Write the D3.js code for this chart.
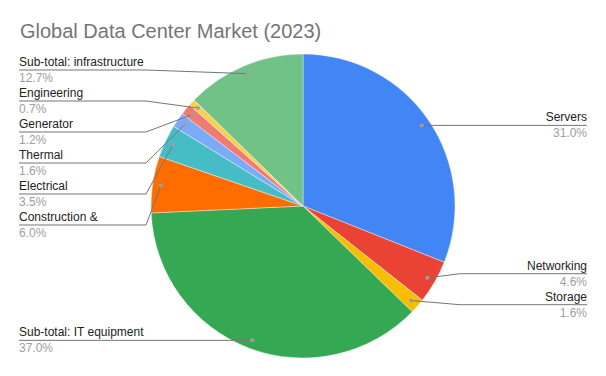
<!DOCTYPE html>
<html lang="en">
<head>
<meta charset="utf-8">
<title>Global Data Center Market (2023)</title>
<script src="https://cdn.jsdelivr.net/npm/d3@7/dist/d3.min.js"></script>
<style>
  body { margin: 0; background: #fff; }
  text { font-family: "Liberation Sans", Arial, sans-serif; }
</style>
</head>
<body>
<script>
// data
var categories = ["Servers", "Networking", "Storage", "Sub-total: IT equipment",
                  "Construction &", "Electrical", "Thermal", "Generator",
                  "Engineering", "Sub-total: infrastructure"];
var shares = [31.0, 4.6, 1.6, 37.0, 6.0, 3.5, 1.6, 1.2, 0.7, 12.7];
var colors = ["#4285F4", "#EA4335", "#FBBC04", "#34A853", "#FF6D01",
              "#46BDC6", "#7BAAF7", "#F07B72", "#FCD04F", "#71C287"];

var w = 606, h = 376;
var cx = 303, cy = 206, r = 152;
var gap = 31;      // vertical space between stacked labels
var minY = 70;     // top limit for label lines

var svg = d3.select("body").append("svg")
    .attr("width", w).attr("height", h);

svg.append("text")
    .attr("x", 20).attr("y", 38)
    .attr("font-size", "20px")
    .attr("fill", "#757575")
    .text("Global Data Center Market (2023)");

var data = categories.map(function(c, i) {
    return { name: c, value: shares[i], color: colors[i] };
});

var pie = d3.pie().sort(null).value(function(d) { return d.value; });
var arcs = pie(data);

var arc = d3.arc().innerRadius(0).outerRadius(r);
var dotArc = d3.arc().innerRadius(r * 0.945).outerRadius(r * 0.945);

var g = svg.append("g").attr("transform", "translate(" + cx + "," + cy + ")");

g.selectAll("path")
    .data(arcs)
    .enter().append("path")
    .attr("d", arc)
    .attr("fill", function(d) { return d.data.color; })
    .attr("stroke", "#fff")
    .attr("stroke-width", 0.4);

// label anchors
arcs.forEach(function(d) {
    var c = dotArc.centroid(d);
    d.dx = cx + c[0];
    d.dy = cy + c[1];
    d.right = (d.startAngle + d.endAngle) / 2 < Math.PI;
});

// stack labels per side: merge overlapping clusters, centred on their dots
function layout(items) {
    items.sort(function(a, b) { return a.dy - b.dy; });
    var clusters = items.map(function(d) { return { items: [d], sum: d.dy }; });
    function place(c) {
        var n = c.items.length;
        var top = c.sum / n - (n - 1) * gap / 2;
        c.top = Math.max(minY, top);
    }
    clusters.forEach(place);
    var changed = true;
    while (changed) {
        changed = false;
        for (var i = 0; i < clusters.length - 1; i++) {
            var a = clusters[i], b = clusters[i + 1];
            if (a.top + (a.items.length - 1) * gap + gap > b.top) {
                a.items = a.items.concat(b.items);
                a.sum += b.sum;
                clusters.splice(i + 1, 1);
                place(a);
                changed = true;
                break;
            }
        }
    }
    clusters.forEach(function(c) {
        c.items.forEach(function(d, k) { d.ly = c.top + k * gap; });
    });
}
layout(arcs.filter(function(d) { return d.right; }));
layout(arcs.filter(function(d) { return !d.right; }));

var labels = svg.append("g");

labels.selectAll("path")
    .data(arcs)
    .enter().append("path")
    .attr("fill", "none")
    .attr("stroke", "#757575")
    .attr("stroke-width", 1)
    .attr("d", function(d) {
        var knee = d.right ? cx + r + 5 : cx - r - 5;
        var end = d.right ? 587 : 19;
        return "M" + d.dx + "," + d.dy + "L" + knee + "," + d.ly + "L" + end + "," + d.ly;
    });

labels.selectAll("circle")
    .data(arcs)
    .enter().append("circle")
    .attr("cx", function(d) { return d.dx; })
    .attr("cy", function(d) { return d.dy; })
    .attr("r", 2)
    .attr("fill", "#9e9e9e");

labels.selectAll("text.name")
    .data(arcs)
    .enter().append("text")
    .attr("class", "name")
    .attr("x", function(d) { return d.right ? 587 : 19; })
    .attr("y", function(d) { return d.ly - 4; })
    .attr("text-anchor", function(d) { return d.right ? "end" : "start"; })
    .attr("font-size", "12px")
    .attr("fill", "#222")
    .text(function(d) { return d.data.name; });

labels.selectAll("text.pct")
    .data(arcs)
    .enter().append("text")
    .attr("class", "pct")
    .attr("x", function(d) { return d.right ? 587 : 19; })
    .attr("y", function(d) { return d.ly + 12; })
    .attr("text-anchor", function(d) { return d.right ? "end" : "start"; })
    .attr("font-size", "12px")
    .attr("fill", "#9e9e9e")
    .text(function(d) { return d.data.value.toFixed(1) + "%"; });
</script>
</body>
</html>
